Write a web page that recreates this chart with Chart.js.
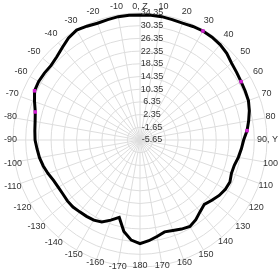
<!DOCTYPE html>
<html>
<head>
<meta charset="utf-8">
<script src="https://cdn.jsdelivr.net/npm/chart.js@4"></script>
<style>
  html, body { margin: 0; padding: 0; background: #fff; }
</style>
</head>
<body>
<canvas id="pattern" width="280" height="280"></canvas>
<script>
// angle of each sample, degrees from the top going clockwise (0..180, then -175..-5)
const angles = Array.from({ length: 72 }, (_, i) => (i <= 36 ? i * 5 : i * 5 - 360));

// named axes on the angle labels
const axisNames = { 0: '0, Z', 90: '90, Y' };

// radial scale (gain)
const radialMin = -5.65;
const radialMax = 34.35;
const radialStep = 4;

// measured pattern, one value per angle above
const gain = [
    33.7, 33.8, 33.8, 33.6, 33.5, 33.8, 34.0, 33.9, 33.6, 33.0,   // 0..45
    32.0, 31.5, 31.1, 30.9, 30.7, 30.0, 29.1, 28.2, 27.0, 26.4,   // 50..95
    25.8, 25.1, 25.0, 25.6, 25.4, 24.8, 23.9, 23.0, 23.8, 25.0,   // 100..145
    25.8, 25.3, 24.7, 24.3, 25.2, 26.2, 27.0,                     // 150..180
    26.0, 23.6, 19.6, 21.2, 22.8, 23.5, 23.7, 23.9, 24.2, 24.2,   // -175..-130
    24.0, 24.1, 24.4, 25.2, 25.9, 26.5, 26.9, 27.4, 27.6, 27.9,   // -125..-80
    28.5, 29.7, 31.0, 31.2, 31.1, 30.9, 31.4, 32.4, 33.6, 34.3,   // -75..-30
    33.9, 33.5, 33.6, 33.8, 33.8                                  // -25..-5
];

// angles that carry a marker on the curve
const markerAngles = [30, 60, 85, -65, -75];
const markers = angles.map((a, i) => (markerAngles.includes(a) ? gain[i] : null));

// tick labels beside the centre spoke and angle labels round the rim
const labelPlugin = {
    id: 'patternLabels',
    afterDraw(chart) {
        const scale = chart.scales.r;
        const ctx = chart.ctx;
        ctx.save();
        ctx.font = '9px "Liberation Sans", Arial, sans-serif';
        ctx.fillStyle = '#333';
        ctx.textAlign = 'center';
        ctx.textBaseline = 'middle';

        scale.ticks.forEach(t => {
            const d = scale.getDistanceFromCenterForValue(t.value);
            ctx.fillText(t.value.toFixed(2), scale.xCenter + 12, scale.yCenter - d);
        });

        angles.forEach((a, i) => {
            if (a % 10 !== 0) return;
            const text = axisNames[a] || String(a);
            const w = ctx.measureText(text).width;
            const th = a * Math.PI / 180;
            const s = Math.abs(Math.sin(th));
            const c = Math.abs(Math.cos(th));
            const rim = scale.drawingArea - 2 + 4 * Math.cos(th) + 3 * Math.abs(Math.sin(2 * th));
            const p = scale.getPointPosition(i, rim + w / 2 * s + 4.5 * c);
            const x = Math.min(Math.max(p.x, 4 + w / 2), chart.width - 2 - w / 2);
            ctx.fillText(text, x, p.y);
        });
        ctx.restore();
    }
};

new Chart(document.getElementById('pattern').getContext('2d'), {
    type: 'radar',
    data: {
        labels: angles,
        datasets: [
            {
                label: 'markers',
                data: markers,
                showLine: false,
                pointStyle: 'rect',
                pointRadius: 2.5,
                pointBackgroundColor: '#d21fd2',
                pointBorderWidth: 0
            },
            {
                label: 'gain',
                data: gain,
                borderColor: '#000',
                borderWidth: 3,
                pointRadius: 0,
                fill: false,
                tension: 0
            }
        ]
    },
    options: {
        responsive: false,
        animation: false,
        devicePixelRatio: 1,
        layout: { padding: 13 },
        plugins: {
            legend: { display: false },
            tooltip: { enabled: false }
        },
        scales: {
            r: {
                min: radialMin,
                max: radialMax,
                startAngle: 0,
                ticks: { display: false, stepSize: radialStep },
                grid: { circular: true, color: '#dddddd', lineWidth: 1 },
                angleLines: {
                    color: ctx => (angles[ctx.index] % 10 === 0 ? '#dddddd' : 'transparent')
                },
                pointLabels: { display: false }
            }
        }
    },
    plugins: [labelPlugin]
});
</script>
</body>
</html>
